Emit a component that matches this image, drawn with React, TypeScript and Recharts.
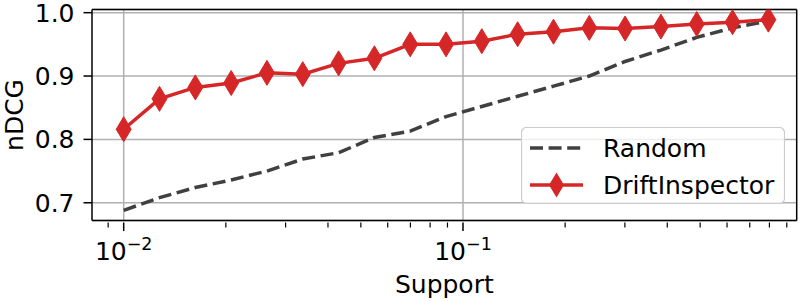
import React from 'react';
import { LineChart, Line, XAxis, YAxis, CartesianGrid, Legend, ReferenceLine, Label } from 'recharts';

const support = [0.01, 0.01275, 0.01626, 0.02074, 0.02644, 0.03371, 0.04299, 0.05481, 0.0699, 0.08913, 0.1136, 0.1449, 0.1848, 0.2356, 0.3004, 0.3831, 0.4886, 0.6229, 0.7943];
const randomNdcg = [0.688, 0.708, 0.724, 0.736, 0.75, 0.769, 0.779, 0.803, 0.813, 0.836, 0.852, 0.868, 0.884, 0.9, 0.923, 0.941, 0.961, 0.976, 0.987];
const driftNdcg = [0.816, 0.864, 0.882, 0.889, 0.905, 0.903, 0.92, 0.928, 0.95, 0.95, 0.955, 0.966, 0.97, 0.976, 0.975, 0.978, 0.982, 0.985, 0.989];

const seriesNames = ['Random', 'DriftInspector'];

const xMajorTicks = [0.01, 0.1];
const xMinorTicks = [0.009, 0.02, 0.03, 0.04, 0.05, 0.06, 0.07, 0.08, 0.09, 0.2, 0.3, 0.4, 0.5, 0.6, 0.7, 0.8, 0.9];
const yTicks = [0.7, 0.8, 0.9, 1.0];

const xDomain = [0.008065, 0.9627];
const yDomain = [0.672, 1.005];

const data = support.map((s, i) => ({ support: s, Random: randomNdcg[i], DriftInspector: driftNdcg[i] }));

const FONT = 'DejaVu Sans';
const FS = 25;
const RED = '#d62728';
const GREY = '#404040';
const GRID = '#b0b0b0';

const isMajor = (v: number) => {
  const l = Math.log10(v);
  return Math.abs(l - Math.round(l)) < 1e-6;
};

const XTick = (props: any) => {
  const { x, y, payload } = props;
  const v = payload.value;
  if (!isMajor(v)) {
    return <line x1={x} x2={x} y1={y} y2={y + 5} stroke="#000" strokeWidth={1.2} />;
  }
  const exp = Math.round(Math.log10(v));
  return (
    <g>
      <line x1={x} x2={x} y1={y} y2={y + 8.5} stroke="#000" strokeWidth={1.5} />
      <text x={x} y={y + 37.5} textAnchor="middle" fontSize={FS} fontFamily={FONT} fill="#000">
        <tspan>10</tspan>
        <tspan dy={-10} fontSize={17.5}>{'\u2212' + Math.abs(exp)}</tspan>
      </text>
    </g>
  );
};

const Diamond = (props: any) => {
  const { cx, cy, index } = props;
  if (cx == null || cy == null) return <g key={index} />;
  const w = 7.5;
  const h = 12.5;
  return (
    <polygon
      key={index}
      points={`${cx},${cy - h} ${cx + w},${cy} ${cx},${cy + h} ${cx - w},${cy}`}
      fill={RED}
      stroke={RED}
      strokeWidth={1}
    />
  );
};

const renderLegend = (props: any) => {
  const payload = [...(props.payload || [])].sort(
    (a: any, b: any) => seriesNames.indexOf(a.value) - seriesNames.indexOf(b.value)
  );
  return (
    <svg width={264} height={77} style={{ display: 'block' }}>
      <rect x={0.5} y={0.5} width={263} height={76} rx={5} fill="#fff" fillOpacity={0.8} stroke="#cccccc" strokeWidth={1.2} />
      {payload.map((entry: any, i: number) => {
        const cy = 21 + i * 37;
        const dashed = entry.value === 'Random';
        return (
          <g key={entry.value}>
            <line x1={9} x2={62} y1={cy} y2={cy} stroke={entry.color} strokeWidth={3.5} strokeDasharray={dashed ? '13 5.6' : undefined} />
            {!dashed && <polygon points={`35.5,${cy - 12.5} 43,${cy} 35.5,${cy + 12.5} 28,${cy}`} fill={RED} />}
            <text x={82} y={cy} dy="0.36em" fontSize={FS} fontFamily={FONT} fill="#000">{entry.value}</text>
          </g>
        );
      })}
    </svg>
  );
};

export default function App() {
  return (
    <div style={{ position: 'absolute', left: 0, top: 0, width: 800, height: 301, background: '#fff' }}>
      <LineChart width={800} height={301} data={data} margin={{ top: 9.5, right: 3.3, bottom: 0, left: 0 }}>
        <CartesianGrid vertical={false} stroke={GRID} strokeWidth={1.5} />
        <ReferenceLine x={0.01} stroke={GRID} strokeWidth={1.5} />
        <ReferenceLine x={0.1} stroke={GRID} strokeWidth={1.5} />
        <XAxis
          dataKey="support"
          type="number"
          scale="log"
          domain={xDomain}
          allowDataOverflow
          ticks={[...xMinorTicks, ...xMajorTicks]}
          tick={<XTick />}
          tickLine={false}
          tickSize={0}
          interval={0}
          axisLine={{ stroke: '#000', strokeWidth: 1.5 }}
          height={80.5}
        >
          <Label
            content={(p: any) => (
              <text x={p.viewBox.x + p.viewBox.width / 2} y={293} textAnchor="middle" fontSize={FS} fontFamily={FONT} fill="#000">
                Support
              </text>
            )}
          />
        </XAxis>
        <YAxis
          type="number"
          domain={yDomain}
          allowDataOverflow
          ticks={yTicks}
          interval={0}
          tickFormatter={(v: number) => v.toFixed(1)}
          tick={{ fontSize: FS, fontFamily: FONT, fill: '#000' }}
          tickLine={{ stroke: '#000', strokeWidth: 1.5 }}
          tickSize={8.5}
          tickMargin={9}
          axisLine={{ stroke: '#000', strokeWidth: 1.5 }}
          width={92}
        >
          <Label
            content={(p: any) => (
              <text
                x={14}
                y={p.viewBox.y + p.viewBox.height / 2}
                transform={`rotate(-90, 14, ${p.viewBox.y + p.viewBox.height / 2})`}
                textAnchor="middle"
                dominantBaseline="central"
                fontSize={FS}
                fontFamily={FONT}
                fill="#000"
              >
                nDCG
              </text>
            )}
          />
        </YAxis>
        <ReferenceLine y={yDomain[1]} stroke="#000" strokeWidth={1.5} />
        <ReferenceLine x={xDomain[1]} stroke="#000" strokeWidth={1.5} />
        <Line
          dataKey="Random"
          name="Random"
          type="linear"
          stroke={GREY}
          strokeWidth={3.5}
          strokeDasharray="13 5.6"
          dot={false}
          activeDot={false}
          isAnimationActive={false}
        />
        <Line
          dataKey="DriftInspector"
          name="DriftInspector"
          type="linear"
          stroke={RED}
          strokeWidth={3.5}
          dot={<Diamond />}
          activeDot={false}
          isAnimationActive={false}
        />
        <Legend
          layout="vertical"
          align="center"
          verticalAlign="middle"
          content={renderLegend}
          wrapperStyle={{ position: 'absolute', left: 521, top: 127, width: 264, height: 77 }}
        />
      </LineChart>
    </div>
  );
}
